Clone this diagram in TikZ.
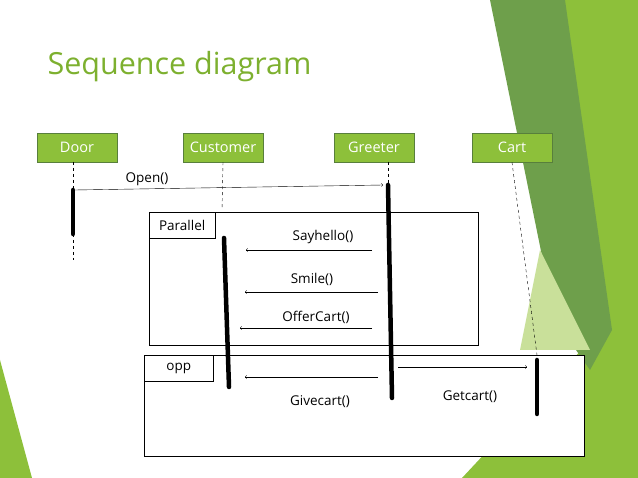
\documentclass[tikz,border=0pt]{standalone}
\usepackage{fontspec}
\setmainfont{Open Sans}
\usetikzlibrary{positioning}
\definecolor{leaf}{HTML}{8DC03A}
\definecolor{moss}{HTML}{6E9F4B}
\definecolor{pale}{HTML}{C9E09A}
\definecolor{titlegreen}{HTML}{7DB02F}
\tikzset{
	every actor/.style={
		draw=moss!80!black,
		fill=leaf,
		text=white,
		minimum width=80pt,
		minimum height=29pt,
		font=\fontsize{14.5}{16}\selectfont
	},
	msg/.style={->, >=to, thin},
	lifeline/.style={dashed, thin},
	active/.style={line width=4.5pt, line cap=round},
	frame/.style={draw, thin},
	tab/.style={draw, thin, anchor=north west, minimum height=26pt, inner xsep=5pt, font=\fontsize{13.5}{15}\selectfont},
	label/.style={font=\fontsize{13.5}{15}\selectfont}
}

\begin{document}
\begin{tikzpicture}[x=1pt, y=-1pt]
\useasboundingbox (0,0) rectangle (638,478);

% background
\fill [leaf] (560,0) -- (638,0) -- (638,478) -- (462,478) -- (600,330) -- cycle;
\fill [moss] (490,0) -- (565,0) -- (612,330) -- (590,370) -- (555,320) -- cycle;
\fill [pale] (540,250) -- (590,350) -- (520,350) -- cycle;
\fill [leaf] (0,360) -- (32,478) -- (0,478) -- cycle;

\node [anchor=west, text=titlegreen, font=\fontsize{30.5}{34}\selectfont] (title) at (44,67) {Sequence diagram};

% actors
\foreach \n/\l/\x in {door/Door/77, customer/Customer/223, greeter/Greeter/374, cart/Cart/512}
	\node [every actor/.try] (\n) at (\x,147.5) {\l};

% lifelines
\coordinate (door-end) at (73,260);
\coordinate (customer-end) at (222,210);
\coordinate (greeter-end) at (388,185);
\coordinate (cart-end) at (537,355);
\draw [lifeline] (73,162) -- (door-end);
\draw [lifeline] (customer.south) -- (customer-end);
\draw [lifeline] (388,162) -- (greeter-end);
\draw [lifeline] (cart.south) -- (cart-end);

% frames
\draw [frame, fill=white] (149,212) rectangle (478,345);
\node [tab, minimum width=66pt] (parallel) at (149,212) {Parallel};
\draw [frame, fill=white] (144,355) rectangle (584,456);
\node [tab, minimum width=69pt] (opp) at (144,355) {opp};

% activations
\draw [active] (73,190) -- (73,234);
\draw [active] (224,238) -- (229,387);
\draw [active] (388,185) -- (392,398);
\draw [active] (537,360) -- (537,414);

% messages
\coordinate (open-a) at (75,190);   \coordinate (open-b) at (383,185);
\coordinate (hello-a) at (372,250); \coordinate (hello-b) at (246,250);
\coordinate (smile-a) at (378,292); \coordinate (smile-b) at (245,292);
\coordinate (offer-a) at (372,328); \coordinate (offer-b) at (240,328);
\coordinate (give-a) at (378,377);  \coordinate (give-b) at (245,377);
\coordinate (get-a) at (398,367);   \coordinate (get-b) at (527,367);
\foreach \m in {open, hello, smile, offer, give, get}
	\draw [msg] (\m-a) -- (\m-b);

\node [label] (open-l) at (147,179) {Open()};
\node [label] (hello-l) at (323,237) {Sayhello()};
\node [label] (smile-l) at (312,279) {Smile()};
\node [label] (offer-l) at (316,317) {OfferCart()};
\node [label] (give-l) at (320,402) {Givecart()};
\node [label] (get-l) at (470,397) {Getcart()};

\end{tikzpicture}
\end{document}
